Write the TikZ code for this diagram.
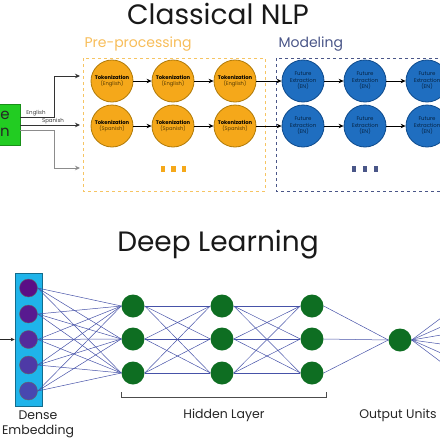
\documentclass[tikz,border=0pt]{standalone}
\usepackage{fontspec}
\setmainfont{Poppins}
\usetikzlibrary{arrows.meta}

\definecolor{tokfill}{HTML}{F5A81A}
\definecolor{tokline}{HTML}{B07A08}
\definecolor{tokbox}{HTML}{F6C463}
\definecolor{featfill}{HTML}{1F6EC0}
\definecolor{featline}{HTML}{0D4A8C}
\definecolor{featbox}{HTML}{4A5688}
\definecolor{srcgreen}{HTML}{22CC22}
\definecolor{dlgreen}{HTML}{0E6E22}
\definecolor{embcyan}{HTML}{1FB4EA}
\definecolor{netline}{HTML}{4652A8}
\definecolor{embA}{HTML}{5A0E86}
\definecolor{embB}{HTML}{581A90}
\definecolor{embC}{HTML}{542A9C}
\definecolor{embD}{HTML}{4E3AA6}
\definecolor{embE}{HTML}{4848B0}

\begin{document}
\begin{tikzpicture}[x=1pt, y=-1pt,
        tok/.style={circle, draw=tokline, line width=0.8pt, fill=tokfill, minimum size=42pt, inner sep=0pt, align=center, font=\fontsize{5.2}{6.4}\selectfont},
        feat/.style={circle, draw=featline, line width=0.8pt, fill=featfill, minimum size=42pt, inner sep=0pt, align=center, text=featline!50!black, font=\fontsize{5.4}{6.4}\selectfont},
        unit/.style={circle, fill=dlgreen, minimum size=23pt, inner sep=0pt},
        embunit/.style={circle, draw=black!60, line width=0.4pt, fill=#1, minimum size=18pt, inner sep=0pt},
        arrow/.style={-{Stealth[length=5pt, width=4.5pt]}, line width=0.8pt},
        link/.style={netline, line width=0.5pt},
        label/.style={font=\fontsize{12.5}{15}\selectfont, text=black!85, align=center},
        dots/.style={minimum width=4.5pt, minimum height=5.5pt, inner sep=0pt}
    ]
        \useasboundingbox (0,0) rectangle (440,440);

        % Classical NLP
        \node[font=\fontsize{28}{30}\selectfont, text=black!90] (title1) at (218,14) {Classical NLP};
        \node[font=\fontsize{14}{16}\selectfont, text=tokbox!90!orange, anchor=west] (preT) at (81,44) {Pre-processing};
        \node[font=\fontsize{14}{16}\selectfont, text=featbox, anchor=west] (modT) at (275,44) {Modeling};
        \draw[tokbox, dashed, line width=0.9pt] (83,58) rectangle (265,191);
        \draw[featbox, dashed, line width=0.9pt] (276,58) rectangle (452,191);

        \node[rectangle, fill=srcgreen, draw=srcgreen!70!black, minimum width=50pt, minimum height=41pt] (src) at (-5,124.5) {};
        \node[anchor=east, align=right, font=\fontsize{15}{17}\selectfont, text=black!85, inner xsep=0pt] (srcT) at (10,124) {e\\n};

        \node[tok] (t11) at (112,81) {\textbf{Tokenization}\\{\color{black!50!tokline}(English)}};
        \node[tok] (t12) at (173,81) {\textbf{Tokenization}\\{\color{black!50!tokline}(English)}};
        \node[tok] (t13) at (235,81) {\textbf{Tokenization}\\{\color{black!50!tokline}(English)}};
        \node[tok] (t21) at (112,126) {\textbf{Tokenization}\\{\color{black!50!tokline}(Spanish)}};
        \node[tok] (t22) at (173,126) {\textbf{Tokenization}\\{\color{black!50!tokline}(Spanish)}};
        \node[tok] (t23) at (235,126) {\textbf{Tokenization}\\{\color{black!50!tokline}(Spanish)}};

        \node[feat] (f11) at (303,81) {Future\\Extraction\\(EN)};
        \node[feat] (f12) at (365,81) {Future\\Extraction\\(EN)};
        \node[feat] (f13) at (427,81) {Future\\Extraction\\(EN)};
        \node[feat] (f21) at (303,126) {Future\\Extraction\\(EN)};
        \node[feat] (f22) at (365,126) {Future\\Extraction\\(EN)};
        \node[feat] (f23) at (427,126) {Future\\Extraction\\(EN)};

        \node[dots, fill=tokfill] (o1) at (163,169) {};
        \node[dots, fill=tokfill] (o2) at (173.5,169) {};
        \node[dots, fill=tokfill] (o3) at (184,169) {};
        \node[dots, fill=featbox] (m1) at (354,169) {};
        \node[dots, fill=featbox] (m2) at (365,169) {};
        \node[dots, fill=featbox] (m3) at (376,169) {};

        \coordinate (en) at (80,76);
        \coordinate (es) at (80,125);
        \coordinate (ot) at (80,168);
        \draw[arrow, black!80] ([yshift=7.5pt]src.east) -| ([xshift=-26pt]en) -- (en);
        \draw[arrow, black!80] (src.east |- es) -- (es);
        \draw[arrow, black!45] ([yshift=-5.5pt]src.east) -| ([xshift=-26pt]ot) -- (ot);
        \node[font=\fontsize{5.5}{6}\selectfont, text=black!75] (enT) at (36,113) {English};
        \node[font=\fontsize{5.5}{6}\selectfont, text=black!75] (esT) at (53,121.5) {Spanish};

        \draw[arrow] (t11) -- (t12);
        \draw[arrow] (t12) -- (t13);
        \draw[arrow] (t21) -- (t22);
        \draw[arrow] (t22) -- (t23);
        \draw[arrow] (t13) -- (f11);
        \draw[arrow] (t23) -- (f21);
        \draw[arrow] (f11) -- (f12);
        \draw[arrow] (f12) -- (f13);
        \draw[arrow] (f21) -- (f22);
        \draw[arrow] (f22) -- (f23);

        % Deep Learning
        \node[font=\fontsize{28}{30}\selectfont, text=black!90] (title2) at (218,245) {Deep Learning};

        \node[rectangle, fill=embcyan, draw=embcyan!60!black, line width=0.6pt, minimum width=27pt, minimum height=133pt, inner sep=0pt] (emb) at (28.5,339.5) {};
        \node[embunit=embA] (e1) at (28.5,288) {};
        \node[embunit=embB] (e2) at (28.5,314) {};
        \node[embunit=embC] (e3) at (28.5,339.5) {};
        \node[embunit=embD] (e4) at (28.5,365) {};
        \node[embunit=embE] (e5) at (28.5,391) {};

        \node[unit] (a1) at (133,306) {};
        \node[unit] (a2) at (133,339) {};
        \node[unit] (a3) at (133,373) {};
        \node[unit] (b1) at (222,306) {};
        \node[unit] (b2) at (222,339) {};
        \node[unit] (b3) at (222,373) {};
        \node[unit] (c1) at (312,306) {};
        \node[unit] (c2) at (312,339) {};
        \node[unit] (c3) at (312,373) {};
        \node[unit] (out) at (400,340) {};

        \foreach \i in {1,...,5}
            \foreach \j in {1,2,3}
                \draw[link] (e\i.east) -- (a\j.west);
        \foreach \i in {1,2,3}
            \foreach \j in {1,2,3} {
                \draw[link] (a\i.east) -- (b\j.west);
                \draw[link] (b\i.east) -- (c\j.west);
            }
        \foreach \i in {1,2,3}
            \draw[link] (c\i.east) -- (out.west);

        \foreach \k/\y in {1/318,2/327,3/335,4/344,5/353,6/362} {
            \coordinate (fan\k) at (441,\y);
            \draw[link] (out.east) -- (fan\k);
        }

        \coordinate (inp) at (-2,339.5);
        \draw[-{Stealth[length=4pt, width=3.5pt]}, line width=0.6pt, black!85] (inp) -- (emb.west);

        \draw[black!70, line width=0.7pt] (121,392) -- (121,397) -- (326,397) -- (326,392);

        \node[label] (embT) at (38,424) {Dense\\Embedding};
        \node[label] (hidT) at (224,415) {Hidden Layer};
        \node[label] (outT) at (398,415) {Output Units};
    \end{tikzpicture}
\end{document}
